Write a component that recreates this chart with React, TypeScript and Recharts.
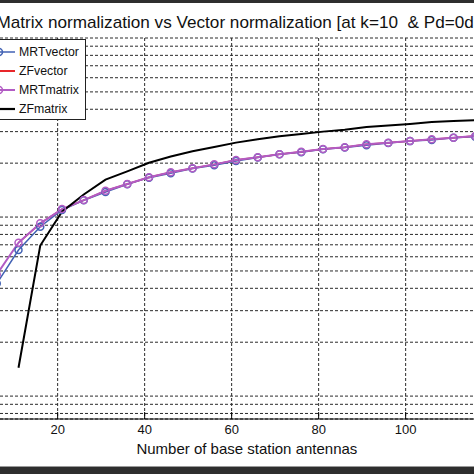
import { LineChart, Line, XAxis, YAxis, CartesianGrid } from "recharts";

// Number of base station antennas (M), sampled every 5
const antennas = [
  1, 6, 11, 16, 21, 26, 31, 36, 41, 46, 51, 56, 61, 66, 71, 76, 81, 86, 91, 96,
  101, 106, 111, 116, 121, 126,
];

// Sum rate per scheme, K = 10 users, Pd = 0 dB
const mrtVector = [
  1.7, 4.25, 6.54, 8.83, 10.95, 12.4, 13.8, 15.25, 16.6, 17.55, 18.65, 19.45,
  20.55, 21.5, 22.4, 23.0, 23.95, 24.45, 25.2, 25.95, 26.55, 26.9, 27.7, 28.1,
  28.9, 29.4,
];
const zfVector = [
  null, null, 7.19, 9.22, 11.08, 12.44, 14.02, 15.29, 16.67, 17.77, 18.71,
  19.69, 20.81, 21.56, 22.41, 23.17, 23.99, 24.51, 25.47, 26.01, 26.58, 27.17,
  27.74, 28.36, 28.9, 29.5,
];
const mrtMatrix = [
  2.0, 4.78, 7.19, 9.22, 11.08, 12.44, 14.02, 15.29, 16.67, 17.77, 18.71,
  19.69, 20.81, 21.56, 22.41, 23.17, 23.99, 24.51, 25.47, 26.01, 26.58, 27.17,
  27.74, 28.36, 28.9, 29.5,
];
const zfMatrix = [
  null, null, 1.44, 6.93, 10.71, 13.37, 16.18, 17.98, 20.11, 21.8, 23.28,
  24.64, 26.04, 27.17, 28.24, 29.1, 30.0, 30.7, 31.8, 32.5, 33.1, 33.9, 34.4,
  34.8, 35.2, 35.6,
];

const xTicks = [20, 40, 60, 80, 100];
const yTicks = [
  0.8, 0.9, 1, 2, 3, 4, 5, 6, 7, 8, 9, 10, 20, 30, 40, 50, 60, 70, 80, 90, 100,
];

const chartData = antennas.map((m, i) => ({
  m,
  mrtVector: mrtVector[i],
  zfVector: zfVector[i],
  mrtMatrix: mrtMatrix[i],
  zfMatrix: zfMatrix[i],
}));

const BLUE = "#4262b4";
const RED = "#e8262a";
const PURPLE = "#b25cc4";
const BLACK = "#000";
const FONT = '"Liberation Sans", Arial, Helvetica, sans-serif';

// the plot is wider than the frame, so it is shifted left and clipped
const CHART_LEFT = -84.65;
const YAXIS_W = 60;
const PLOT_W = 543.75;
const CHART_W = YAXIS_W + PLOT_W + 20;
const CHART_H = 474;
const PLOT_CENTER = CHART_LEFT + YAXIS_W + PLOT_W / 2;

const legendRows = [
  { name: "MRTvector", color: BLUE, marker: true, width: 1.5 },
  { name: "ZFvector", color: RED, marker: false, width: 2 },
  { name: "MRTmatrix", color: PURPLE, marker: true, width: 2 },
  { name: "ZFmatrix", color: BLACK, marker: false, width: 2.2 },
];

function LegendBox() {
  return (
    <svg
      width={108}
      height={82}
      style={{ position: "absolute", left: -21, top: 39, display: "block" }}
    >
      <rect x={0.5} y={0.5} width={106} height={80} fill="#fff" stroke="#222" />
      {legendRows.map((r, i) => {
        const cy = 13 + i * 19;
        return (
          <g key={r.name}>
            <line
              x1={4}
              x2={36}
              y1={cy}
              y2={cy}
              stroke={r.color}
              strokeWidth={r.width}
            />
            {r.marker && (
              <circle
                cx={20}
                cy={cy}
                r={3.5}
                fill="none"
                stroke={r.color}
                strokeWidth={1.5}
              />
            )}
            <text
              x={40}
              y={cy + 4.3}
              fontSize={12.3}
              fontFamily={FONT}
              fill="#111"
            >
              {r.name}
            </text>
          </g>
        );
      })}
    </svg>
  );
}

const markerDot = (color: string) => ({
  r: 3.5,
  fill: "none",
  stroke: color,
  strokeWidth: 1.5,
});

export default function App() {
  return (
    <div
      style={{
        position: "absolute",
        left: 0,
        top: 0,
        width: 474,
        height: 474,
        overflow: "hidden",
        background: "#fff",
        fontFamily: FONT,
      }}
    >
      <div style={{ position: "absolute", left: CHART_LEFT, top: 0 }}>
        <LineChart
          width={CHART_W}
          height={CHART_H}
          data={chartData}
          margin={{ top: 38, right: 20, bottom: 0, left: 0 }}
        >
          <CartesianGrid stroke="#2a2a2a" strokeDasharray="3 2" />
          <XAxis
            dataKey="m"
            type="number"
            domain={[1, 126]}
            ticks={xTicks}
            height={55}
            tickSize={-7}
            tickMargin={13}
            axisLine={{ stroke: "#000" }}
            tickLine={{ stroke: "#000" }}
            tick={{ fontSize: 13, fill: "#111", fontFamily: FONT }}
            label={{
              value: "Number of base station antennas",
              position: "insideBottom",
              offset: 20,
              style: { fontSize: 15, fill: "#111", fontFamily: FONT },
            }}
          />
          <YAxis
            scale="log"
            type="number"
            domain={[0.745, 100]}
            ticks={yTicks}
            interval={0}
            allowDataOverflow
            width={YAXIS_W}
            tickLine={false}
            tickFormatter={() => ""}
          />
          <Line
            dataKey="mrtVector"
            stroke={BLUE}
            strokeWidth={1.5}
            dot={markerDot(BLUE)}
            isAnimationActive={false}
          />
          <Line
            dataKey="zfVector"
            stroke={RED}
            strokeWidth={1.5}
            dot={false}
            isAnimationActive={false}
          />
          <Line
            dataKey="mrtMatrix"
            stroke={PURPLE}
            strokeWidth={2}
            dot={markerDot(PURPLE)}
            isAnimationActive={false}
          />
          <Line
            dataKey="zfMatrix"
            stroke={BLACK}
            strokeWidth={2}
            dot={false}
            isAnimationActive={false}
          />
        </LineChart>
      </div>

      <div
        style={{
          position: "absolute",
          left: PLOT_CENTER - 404,
          top: 13.6,
          width: 800,
          textAlign: "center",
          fontSize: 17.15,
          lineHeight: "17px",
          whiteSpace: "pre",
          color: "#111",
        }}
      >
        Matrix normalization vs Vector normalization [at k=10  &amp; Pd=0dB]
      </div>

      <LegendBox />

      {/* dark frame bands at the top and bottom edges */}
      <div
        style={{
          position: "absolute",
          left: 0,
          top: 0,
          width: 474,
          height: 3,
          background: "#2e2e2e",
        }}
      />
      <div
        style={{
          position: "absolute",
          left: 0,
          top: 466,
          width: 474,
          height: 1,
          background: "#9a9a9a",
        }}
      />
      <div
        style={{
          position: "absolute",
          left: 0,
          top: 467,
          width: 474,
          height: 7,
          background: "#2e2e2e",
        }}
      />
    </div>
  );
}
